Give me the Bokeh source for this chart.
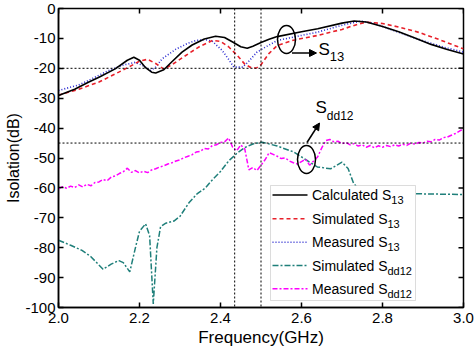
from bokeh.plotting import figure
from bokeh.models import (FixedTicker, Span, BoxAnnotation, Label,
                          Arrow, NormalHead, Range1d, PrintfTickFormatter)
from bokeh.embed import file_html
from bokeh.resources import INLINE

# ---------------- data ----------------
freq_calc = [2.00, 2.04, 2.075, 2.10, 2.14, 2.17, 2.186, 2.20, 2.215, 2.23, 2.24, 2.26, 2.28,
             2.305, 2.33, 2.36, 2.388, 2.41, 2.43, 2.45, 2.466, 2.48, 2.50, 2.52, 2.54, 2.60,
             2.64, 2.70, 2.73, 2.76, 2.80, 2.84, 2.88, 2.92, 2.96, 3.00]
s13_calc = [-29.1, -27.0, -24.6, -23.0, -20.2, -17.3, -16.3, -17.3, -19.8, -21.3, -21.6, -20.5,
            -17.8, -14.6, -12.2, -10.2, -9.3, -9.7, -11.2, -12.8, -13.3, -12.6, -11.4, -10.3,
            -9.4, -7.8, -6.8, -4.9, -4.2, -4.5, -6.0, -7.8, -9.9, -12.0, -13.7, -15.2]

freq_sim = [2.00, 2.05, 2.10, 2.15, 2.18, 2.20, 2.22, 2.24, 2.26, 2.28, 2.32, 2.35, 2.38, 2.40,
            2.42, 2.44, 2.46, 2.478, 2.49, 2.50, 2.52, 2.54, 2.58, 2.64, 2.70, 2.74, 2.76, 2.80,
            2.84, 2.89, 2.94, 3.00]
s13_sim = [-29.0, -27.0, -24.6, -21.2, -19.1, -17.6, -17.0, -18.4, -20.3, -18.8, -15.2, -12.6,
           -10.7, -11.0, -12.8, -15.5, -18.6, -20.0, -19.8, -18.8, -15.0, -12.4, -10.6, -9.0,
           -7.0, -5.2, -4.6, -5.0, -6.2, -8.0, -10.4, -13.5]

freq_meas = [2.00, 2.05, 2.075, 2.12, 2.157, 2.19, 2.21, 2.227, 2.24, 2.256, 2.29, 2.32, 2.34,
             2.363, 2.38, 2.404, 2.42, 2.433, 2.455, 2.47, 2.49, 2.511, 2.54, 2.60, 2.64, 2.70,
             2.746, 2.78, 2.84, 2.90, 2.95, 3.00]
s13_meas = [-27.4, -25.6, -24.0, -21.0, -19.0, -18.0, -19.2, -20.7, -19.6, -16.8, -13.6, -11.6,
            -10.7, -10.4, -11.0, -14.0, -17.0, -19.6, -19.6, -17.6, -14.6, -12.9, -10.7, -9.0,
            -7.9, -5.6, -4.2, -5.0, -8.0, -10.8, -12.9, -14.6]

freq_sdd_sim = [2.00, 2.03, 2.058, 2.08, 2.11, 2.13, 2.149, 2.16, 2.176, 2.19, 2.20, 2.215,
                2.225, 2.234, 2.243, 2.252, 2.265, 2.285, 2.30, 2.322, 2.342, 2.363, 2.375,
                2.40, 2.42, 2.44, 2.46, 2.48, 2.503, 2.54, 2.581, 2.61, 2.639, 2.672, 2.70,
                2.715, 2.729, 2.746, 2.80, 2.85, 2.90, 3.00]
sdd_sim = [-77.5, -79.2, -80.9, -83.0, -87.2, -85.5, -84.3, -85.0, -88.1, -80.0, -74.5, -72.0,
           -76.0, -98.8, -80.0, -73.0, -71.8, -71.1, -69.5, -65.0, -62.0, -60.0, -58.0, -54.5,
           -51.0, -48.5, -46.5, -45.3, -44.7, -46.0, -48.0, -50.5, -53.0, -53.6, -51.4, -53.5,
           -58.6, -60.9, -61.4, -61.8, -62.0, -62.2]

freq_sdd_meas = [2.00, 2.01, 2.02, 2.03, 2.04, 2.05, 2.06, 2.07, 2.08, 2.09, 2.10, 2.11, 2.12,
                 2.13, 2.14, 2.15, 2.16, 2.17, 2.18, 2.19, 2.20, 2.21, 2.22, 2.23, 2.24, 2.25,
                 2.26, 2.27, 2.28, 2.29, 2.30, 2.31, 2.32, 2.33, 2.34, 2.35, 2.36, 2.37, 2.38,
                 2.39, 2.40, 2.41, 2.42, 2.43, 2.44, 2.45, 2.46, 2.47, 2.48, 2.49, 2.50, 2.51,
                 2.52, 2.53, 2.54, 2.55, 2.56, 2.57, 2.58, 2.59, 2.60, 2.61, 2.62, 2.63, 2.64,
                 2.65, 2.66, 2.67, 2.68, 2.69, 2.70, 2.71, 2.72, 2.73, 2.74, 2.75, 2.76, 2.77,
                 2.78, 2.79, 2.80, 2.81, 2.82, 2.83, 2.84, 2.85, 2.86, 2.87, 2.88, 2.89, 2.90,
                 2.91, 2.92, 2.93, 2.94, 2.95, 2.96, 2.97, 2.98, 2.99, 3.00]
sdd_meas = [-60.3, -59.6, -60.1, -59.4, -59.9, -59.0, -59.7, -58.8, -59.3, -58.2, -58.0, -57.2,
            -57.6, -56.4, -56.0, -55.2, -54.6, -53.4, -54.8, -54.2, -55.0, -54.4, -54.9, -54.0,
            -53.6, -53.0, -52.6, -52.0, -51.6, -51.0, -50.6, -49.9, -49.4, -48.9, -48.0, -47.8,
            -46.8, -47.0, -45.8, -45.6, -44.8, -44.6, -43.3, -46.4, -47.6, -45.6, -47.0, -54.0,
            -53.2, -54.2, -52.4, -50.6, -48.2, -48.8, -49.4, -50.2, -50.0, -51.0, -51.6, -52.0,
            -51.2, -50.4, -52.4, -51.0, -49.6, -46.6, -44.2, -43.8, -44.6, -44.4, -45.2, -44.8,
            -45.6, -45.2, -46.0, -45.6, -46.4, -45.8, -46.6, -45.9, -46.4, -45.8, -46.2, -45.6,
            -46.0, -45.4, -45.8, -45.0, -45.4, -44.8, -45.0, -44.4, -44.6, -43.8, -44.0, -43.2,
            -43.0, -42.4, -41.8, -41.0, -40.2]

x_ticks = [2.0, 2.2, 2.4, 2.6, 2.8, 3.0]
y_ticks = [-100, -90, -80, -70, -60, -50, -40, -30, -20, -10, 0]
ref_freqs = [2.435, 2.5]
ref_levels = [-20, -45]

series_names = ["Calculated S", "Simulated S", "Measured S", "Simulated S", "Measured S"]
series_subs = ["13", "13", "13", "dd12", "dd12"]

# ---------------- layout helpers ----------------
W, H = 474, 356
L, R, T, B = 58, 11, 8, 49
FW, FH = W - L - R, H - T - B
FONT = "Liberation Sans"

def fx(px):
    return 2.0 + (px - L) / FW * 1.0

def fy(py):
    return -(py - T) / FH * 100.0

CW = {' ': 278, 'C': 722, 'S': 667, 'M': 833, 'a': 556, 'c': 500, 'd': 556, 'e': 556,
      'i': 222, 'l': 222, 'm': 833, 'r': 333, 's': 500, 't': 278, 'u': 556}

def text_w(s, size):
    return sum(CW.get(ch, 556) for ch in s) / 1000.0 * size

p = figure(width=W, height=H, x_range=Range1d(2, 3), y_range=Range1d(-100, 0),
           output_backend="svg", toolbar_location=None,
           min_border_left=L, min_border_right=R, min_border_top=T, min_border_bottom=B,
           x_axis_label="Frequency(GHz)", y_axis_label="Isolation(dB)")
p.grid.visible = False
p.outline_line_color = "black"
p.outline_line_width = 1.5
p.background_fill_color = "white"
p.border_fill_color = "white"

for ax in (p.xaxis[0], p.yaxis[0]):
    ax.major_tick_in = 5
    ax.major_tick_out = 0
    ax.minor_tick_line_color = None
    ax.axis_line_width = 1.5
    ax.major_tick_line_width = 1.5
    ax.major_label_text_font = FONT
    ax.major_label_text_font_size = "15px"
    ax.major_label_text_color = "black"
    ax.axis_label_text_font = FONT
    ax.axis_label_text_font_size = "17px"
    ax.axis_label_text_font_style = "normal"
    ax.axis_label_text_color = "black"
p.yaxis.axis_label_text_font_size = "16px"
p.xaxis.ticker = FixedTicker(ticks=x_ticks)
p.xaxis.formatter = PrintfTickFormatter(format="%.1f")
p.yaxis.ticker = FixedTicker(ticks=y_ticks)
p.yaxis.formatter = PrintfTickFormatter(format="%d")
p.xaxis.major_label_standoff = 5
p.xaxis.axis_label_standoff = 2
p.yaxis.major_label_standoff = 3
p.yaxis.axis_label_standoff = 0

# inward mirror ticks on the top and right edges (same tick values as the axes)
tick_len_x = 5 / FH * 100
tick_len_y = 5 / FW * 1.0
p.segment(x0=x_ticks, y0=[0] * len(x_ticks), x1=x_ticks, y1=[-tick_len_x] * len(x_ticks),
          line_color="black", line_width=1.5)
p.segment(x0=[3.0] * len(y_ticks), y0=y_ticks, x1=[3.0 - tick_len_y] * len(y_ticks), y1=y_ticks,
          line_color="black", line_width=1.5)

# reference lines
for f in ref_freqs:
    p.add_layout(Span(location=f, dimension="height", line_color="black",
                      line_dash="2 2", line_width=1))
for lv in ref_levels:
    p.add_layout(Span(location=lv, dimension="width", line_color="black",
                      line_dash="2 2", line_width=1))

styles = [
    dict(line_color="black", line_width=1.6, line_dash="solid"),
    dict(line_color="#e8202a", line_width=1.6, line_dash="4 3"),
    dict(line_color="#2a2ad0", line_width=1.6, line_dash="1 2"),
    dict(line_color="#1f7f7a", line_width=1.5, line_dash="6 2 2 2"),
    dict(line_color="#ff00ff", line_width=1.5, line_dash="5 2 2 2"),
]
data = [(freq_sdd_sim, sdd_sim), (freq_sdd_meas, sdd_meas), (freq_meas, s13_meas),
        (freq_sim, s13_sim), (freq_calc, s13_calc)]
order = [3, 4, 2, 1, 0]
for (xs, ys), k in zip(data, order):
    p.line(xs, ys, **styles[k])

# annotations: ellipses, arrows, labels
p.ellipse(x=[fx(286), fx(306)], y=[fy(39), fy(159)], width=18 / FW, height=28 / FH * 100,
          fill_color=None, line_color="black", line_width=1.5)
p.add_layout(Arrow(end=NormalHead(size=7, fill_color="black", line_color="black"),
                   x_start=fx(291.5), y_start=fy(52.5), x_end=fx(316), y_end=fy(52.5),
                   line_width=1.5, line_color="black"))
p.add_layout(Arrow(end=NormalHead(size=7, fill_color="black", line_color="black"),
                   x_start=fx(306.5), y_start=fy(142), x_end=fx(319), y_end=fy(122.5),
                   line_width=1.5, line_color="black"))

def add_sub_label(px, py, main, sub, size, sub_size, dy):
    p.add_layout(Label(x=fx(px), y=fy(py), text=main, text_font=FONT,
                       text_font_size=f"{size}px", text_baseline="middle",
                       text_color="black", level="overlay"))
    p.add_layout(Label(x=fx(px + text_w(main, size)), y=fy(py + dy), text=sub,
                       text_font=FONT, text_font_size=f"{sub_size}px",
                       text_baseline="middle", text_color="black", level="overlay"))

add_sub_label(318, 49, "S", "13", 17, 13, 7)
add_sub_label(315, 107, "S", "dd12", 17, 12, 8)

# legend (drawn by hand for subscripts)
p.add_layout(BoxAnnotation(left=fx(270), right=fx(415), top=fy(185), bottom=fy(300),
                           fill_color="white", fill_alpha=1.0, line_color="#8a8a8a",
                           line_width=1))
rows = [194.5, 218.3, 241.7, 265.0, 288.3]
for k, ry in enumerate(rows):
    p.line([fx(272), fx(307)], [fy(ry), fy(ry)], level="overlay", **styles[k])
    add_sub_label(311.5, ry, series_names[k], series_subs[k], 14, 11, 5)

open("out.html", "w").write(file_html(p, INLINE))
